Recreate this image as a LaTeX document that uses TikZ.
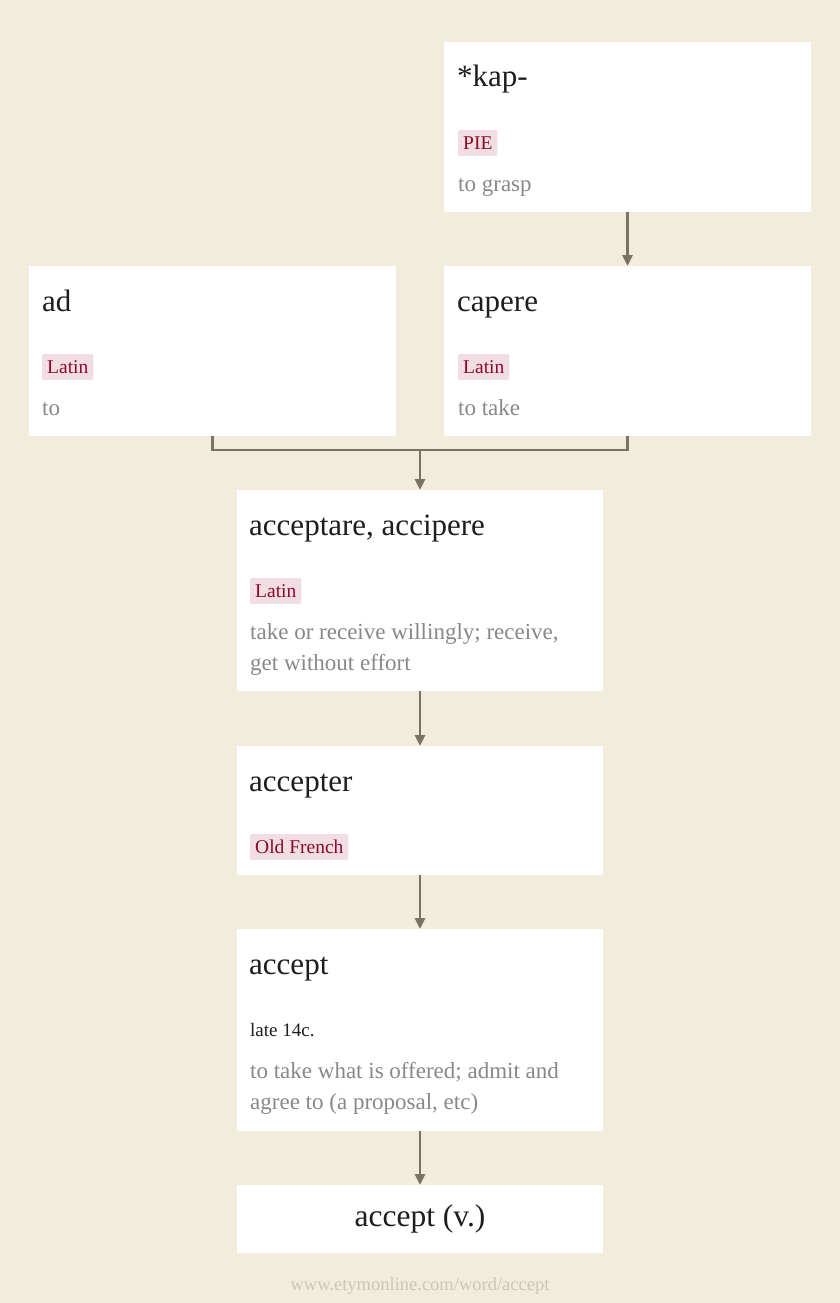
\documentclass[tikz,border=0pt]{standalone}
\usepackage{fontspec}
\setmainfont{Liberation Serif}
\usetikzlibrary{arrows.meta}
\definecolor{bg}{RGB}{242,236,220}
\definecolor{conn}{RGB}{122,114,98}
\definecolor{tagbg}{RGB}{241,222,226}
\definecolor{tagfg}{RGB}{140,10,40}
\definecolor{gloss}{RGB}{136,136,136}
\definecolor{ttl}{RGB}{30,30,30}
\definecolor{foot}{RGB}{205,198,182}
\tikzset{
  box/.style={fill=white,draw=none,anchor=north west,inner sep=0pt,outer sep=0pt},
  ttext/.style={anchor=base west,inner sep=0pt,text=ttl,font=\fontsize{31}{36}\selectfont},
  tagbox/.style={anchor=west,fill=tagbg,text=tagfg,inner xsep=5pt,inner ysep=0pt,minimum height=26pt,rounded corners=1.5pt,font=\fontsize{19.5}{22}\selectfont},
  dtext/.style={anchor=base west,inner sep=0pt,text=ttl,font=\fontsize{19}{22}\selectfont},
  gtext/.style={anchor=base west,inner sep=0pt,text=gloss,align=left,font=\fontsize{23}{31}\selectfont},
  link/.style={draw=conn,line width=2.8pt},
  arr/.style={link,-{Triangle[length=11pt,width=10pt]}}
}
\begin{document}
\begin{tikzpicture}[x=1pt,y=-1pt]
\fill[bg] (0,0) rectangle (840,1303);
\useasboundingbox (0,0) rectangle (840,1303);
% boxes
\node[box,minimum width=367pt,minimum height=170pt] (kap) at (444,42) {};
\node[box,minimum width=367pt,minimum height=170pt] (ad) at (29,266) {};
\node[box,minimum width=367pt,minimum height=170pt] (capere) at (444,266) {};
\node[box,minimum width=366pt,minimum height=201pt] (acceptare) at (237,490) {};
\node[box,minimum width=366pt,minimum height=129pt] (accepter) at (237,746) {};
\node[box,minimum width=366pt,minimum height=202pt] (accept) at (237,929) {};
\node[box,minimum width=366pt,minimum height=68pt] (acceptv) at (237,1185) {};
% kap
\node[ttext] (kapT) at (457,87) {*kap-};
\node[tagbox] (kapL) at (458,143) {PIE};
\node[gtext] (kapG) at (458,191) {to grasp};
% ad
\node[ttext] (adT) at (42,311) {ad};
\node[tagbox] (adL) at (42,367) {Latin};
\node[gtext] (adG) at (42,415) {to};
% capere
\node[ttext] (capT) at (457,311) {capere};
\node[tagbox] (capL) at (458,367) {Latin};
\node[gtext] (capG) at (458,415) {to take};
% acceptare
\node[ttext] (acT) at (249,535) {acceptare, accipere};
\node[tagbox] (acL) at (250,591) {Latin};
\node[gtext] (acG) at (250,670) {take or receive willingly; receive,\\get without effort};
% accepter
\node[ttext] (aoT) at (249,791) {accepter};
\node[tagbox] (aoL) at (250,847) {Old French};
% accept
\node[ttext] (aT) at (249,974) {accept};
\node[dtext] (aD) at (250,1036) {late 14c.};
\node[gtext] (aG) at (250,1109) {to take what is offered; admit and\\agree to (a proposal, etc)};
% accept (v.)
\node[inner sep=0pt,text=ttl,font=\fontsize{31.5}{36}\selectfont] (avT) at (acceptv.center) {accept (v.)};
% footer
\node[inner sep=0pt,text=foot,font=\fontsize{18.5}{20}\selectfont] (footer) at (420,1286) {www.etymonline.com/word/accept};
% connectors
\coordinate (j) at (420,450);
\draw[arr] (kap.south) -- (capere.north);
\draw[link] (ad.south) |- (j);
\draw[link] (capere.south) |- (j);
\draw[arr] (j) -- (acceptare.north);
\draw[arr] (acceptare.south) -- (accepter.north);
\draw[arr] (accepter.south) -- (accept.north);
\draw[arr] (accept.south) -- (acceptv.north);
\end{tikzpicture}
\end{document}
